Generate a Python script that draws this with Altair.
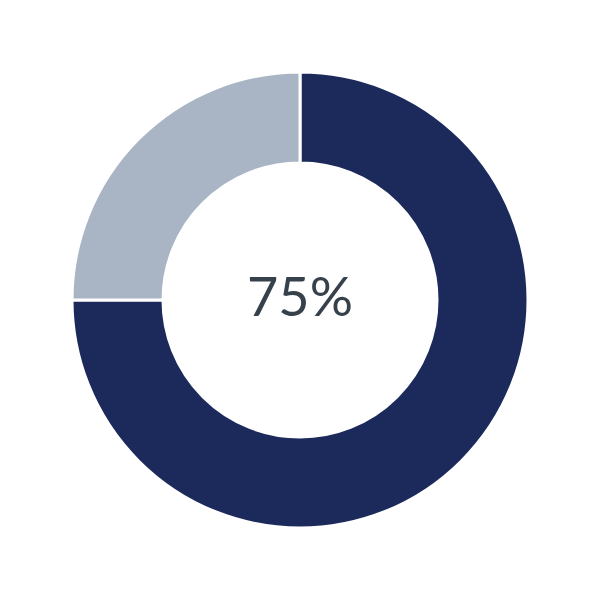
import altair as alt
import pandas as pd

labels = ["Complete", "Remaining"]
values = [75, 25]
order = [1, 2]
colors = ["#1b2a5b", "#a9b4c4"]

df = pd.DataFrame({"label": labels, "value": values, "order": order})

arcs = alt.Chart(df).mark_arc(outerRadius=228, innerRadius=137, stroke="white", strokeWidth=3).encode(
    theta=alt.Theta("value:Q", stack=True),
    order=alt.Order("order:Q"),
    color=alt.Color("label:N", scale=alt.Scale(domain=labels, range=colors), legend=None),
)

text = alt.Chart(pd.DataFrame({"t": ["75%"]})).mark_text(
    font="Lato", fontSize=54, color="#37414b", baseline="middle", align="center"
).encode(text="t:N", x=alt.value(292), y=alt.value(292))

chart = alt.layer(arcs, text).properties(
    width=584, height=584, padding=0, autosize=alt.AutoSizeParams(type="none")
).configure_view(stroke=None)

chart.save("out.html", embed_options={"renderer": "svg", "actions": False})
